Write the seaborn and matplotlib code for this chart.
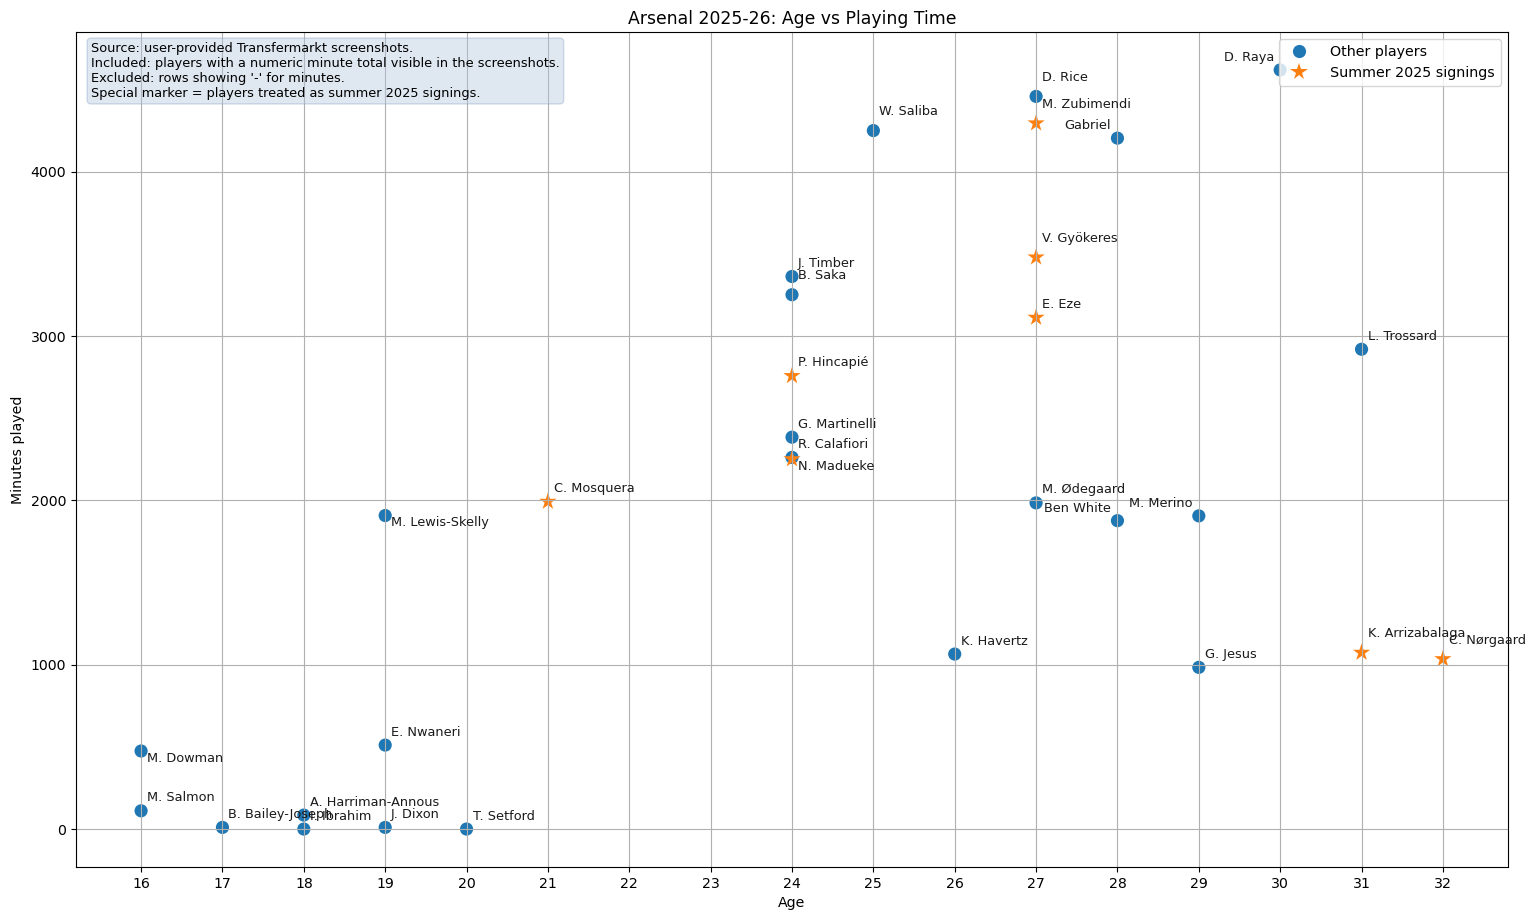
import matplotlib
matplotlib.use("Agg")
import matplotlib.pyplot as plt
import seaborn as sns
import pandas as pd

# ---- data ----
players = ["D. Raya", "D. Rice", "W. Saliba", "Gabriel", "J. Timber", "B. Saka",
           "G. Martinelli", "R. Calafiori", "M. Ødegaard", "Ben White", "M. Merino",
           "L. Trossard", "K. Havertz", "G. Jesus", "M. Lewis-Skelly", "E. Nwaneri",
           "M. Dowman", "M. Salmon", "B. Bailey-Joseph", "A. Harriman-Annous",
           "I. Ibrahim", "J. Dixon", "T. Setford",
           "M. Zubimendi", "V. Gyökeres", "E. Eze", "P. Hincapié", "N. Madueke",
           "C. Mosquera", "K. Arrizabalaga", "C. Nørgaard"]
ages = [30, 27, 25, 28, 24, 24,
        24, 24, 27, 28, 29,
        31, 26, 29, 19, 19,
        16, 16, 17, 18,
        18, 19, 20,
        27, 27, 27, 24, 24,
        21, 31, 32]
minutes = [4620, 4459, 4251, 4205, 3363, 3252,
           2385, 2262, 1985, 1877, 1906,
           2920, 1065, 984, 1908, 511,
           475, 111, 10, 85,
           0, 10, 0,
           4296, 3480, 3113, 2758, 2252,
           1993, 1074, 1035]
groups = ["Other players"] * 23 + ["Summer 2025 signings"] * 8

group_order = ["Other players", "Summer 2025 signings"]
x_ticks = list(range(16, 33))
y_ticks = [0, 1000, 2000, 3000, 4000]

info_lines = ["Source: user-provided Transfermarkt screenshots.",
              "Included: players with a numeric minute total visible in the screenshots.",
              "Excluded: rows showing '-' for minutes.",
              "Special marker = players treated as summer 2025 signings."]

# ---- label placement styles (offset points) ----
STYLE = {
    "default": (4.3, 9.3, "left"),
    "high": (4.3, 13.5, "left"),
    "below": (4.3, -5.3, "left"),
    "left": (-4.5, 9.0, "right"),
}
label_style = {
    "D. Raya": "left", "Gabriel": "left", "Ben White": "left", "M. Merino": "left",
    "D. Rice": "high", "M. Zubimendi": "high", "W. Saliba": "high",
    "V. Gyökeres": "high", "B. Saka": "high", "K. Arrizabalaga": "high",
    "C. Nørgaard": "high",
    "N. Madueke": "below", "M. Lewis-Skelly": "below", "M. Dowman": "below",
}

df = pd.DataFrame({"Player": players, "Age": ages, "Minutes": minutes, "Group": groups})

fig = plt.figure(figsize=(15.36, 9.21), dpi=100)
ax = fig.add_axes([76 / 1536, 1 - 867 / 921, (1508 - 76) / 1536, (867 - 32) / 921])

sns.scatterplot(data=df, x="Age", y="Minutes", hue="Group", style="Group", size="Group",
                hue_order=group_order, style_order=group_order, size_order=group_order,
                palette={"Other players": "#1f77b4", "Summer 2025 signings": "#ff7f0e"},
                markers={"Other players": "o", "Summer 2025 signings": "*"},
                sizes={"Other players": 90, "Summer 2025 signings": 170},
                linewidth=0, edgecolor="none", ax=ax)

for name, a, m in zip(players, ages, minutes):
    dx, dy, ha = STYLE[label_style.get(name, "default")]
    ax.annotate(name, (a, m), xytext=(dx, dy), textcoords="offset points",
                ha=ha, va="center", fontsize=9.3, color="#1a1a1a")

ax.set_xticks(x_ticks)
ax.set_yticks(y_ticks)
ax.tick_params(labelsize=10.2)
ax.grid(True)
ax.set_xlabel("Age", fontsize=10.2)
ax.set_ylabel("Minutes played", fontsize=10.2)
ax.set_title("Arsenal 2025-26: Age vs Playing Time", fontsize=12.4)

handles, labels = ax.get_legend_handles_labels()
ax.legend(handles, labels, loc="upper right", fontsize=10.3, handletextpad=1.2)

ax.text(0.0105, 0.988, "\n".join(info_lines), transform=ax.transAxes,
        ha="left", va="top", fontsize=9.3,
        bbox=dict(boxstyle="round", facecolor="lightsteelblue",
                  edgecolor="#8fa8c8", alpha=0.4))

fig.savefig("out.png", dpi=100)
